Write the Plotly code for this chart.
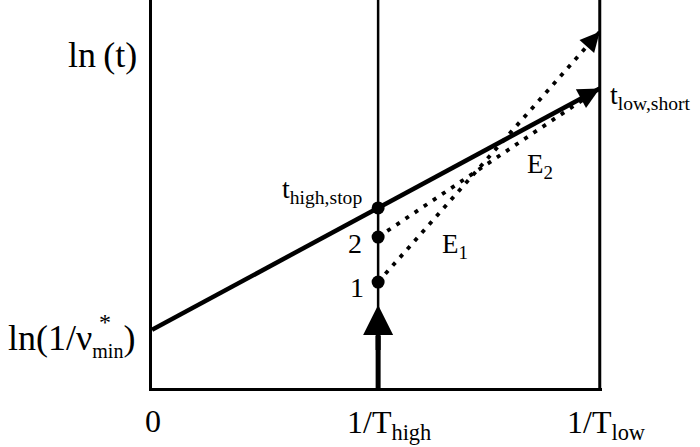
import plotly.graph_objects as go

# ---- schematic data (arbitrary units) ----
x_tick_vals = [0.0, 1.01, 2.0]                 # 0, 1/T_high, 1/T_low
x_tick_labels = ["0", "1/T<sub>high</sub>", "1/T<sub>low</sub>"]
y_top = 10.0
ln_inv_nu_min = 1.5        # intercept ln(1/nu*_min)
t_high_stop = 4.64         # on the solid line at 1/T_high
t_low_short = 7.72         # on the solid line at 1/T_low
state_1 = 2.73             # point 1 at 1/T_high
state_2 = 3.89             # point 2 at 1/T_high
e1_end = 9.18              # path from point 1 at 1/T_low (E1)
e2_end = 7.72              # path from point 2 at 1/T_low (E2)
quench_tip = 2.14          # tip of the bold arrow at 1/T_high

x0, x_high, x_low = x_tick_vals

FONT = "Liberation Serif"
L, R, T, B = 152, 98, 0, 59
W, H = 700, 447
XR = [0, 2.01]
YR = [0, y_top]
pw = W - L - R
ph = H - T - B
def px2p(px):
    return (px - L) / pw
def py2p(py):
    return (H - B - py) / ph

fig = go.Figure()
blk = "black"

# vertical guide lines
fig.add_trace(go.Scatter(x=[x_high, x_high], y=[0, y_top], mode="lines",
                         line=dict(color=blk, width=2.5), hoverinfo="skip"))
fig.add_trace(go.Scatter(x=[x_low, x_low], y=[0, y_top], mode="lines",
                         line=dict(color=blk, width=3), hoverinfo="skip"))
# bold shaft of the quench arrow
fig.add_trace(go.Scatter(x=[x_high, x_high], y=[0, quench_tip - 0.8], mode="lines",
                         line=dict(color=blk, width=5), hoverinfo="skip"))
# solid line
fig.add_trace(go.Scatter(x=[x0, x_high, x_low], y=[ln_inv_nu_min, t_high_stop, t_low_short],
                         mode="lines", line=dict(color=blk, width=4.5), hoverinfo="skip"))
# dotted paths
fig.add_trace(go.Scatter(x=[x_high, x_low], y=[state_1, e1_end], mode="lines",
                         line=dict(color=blk, width=3.8, dash="4px,7px"), hoverinfo="skip"))
fig.add_trace(go.Scatter(x=[x_high, x_low], y=[state_2, e2_end], mode="lines",
                         line=dict(color=blk, width=3.8, dash="4px,7px"), hoverinfo="skip"))
# points
fig.add_trace(go.Scatter(x=[x_high] * 3, y=[state_1, state_2, t_high_stop], mode="markers",
                         marker=dict(color=blk, size=13), hoverinfo="skip"))

annotations = []
def arrow(x, y, xs, ys, width, size):
    annotations.append(dict(x=x, y=y, ax=xs, ay=ys, xref="x", yref="y", axref="x", ayref="y",
                            text="", showarrow=True, arrowhead=2, arrowwidth=width,
                            arrowsize=size, arrowcolor=blk, standoff=0))

def back(xa, ya, xb, yb, frac):
    return xb - (xb - xa) * frac, yb - (yb - ya) * frac

bx, by = back(x_high, t_high_stop, x_low, t_low_short, 0.08)
arrow(x_low, t_low_short, bx, by, 4.5, 0.95)
bx, by = back(x_high, state_1, x_low, e1_end, 0.06)
arrow(x_low, e1_end, bx, by, 3, 1.3)
arrow(x_high, quench_tip, x_high, quench_tip - 1.2, 5, 1.2)

def label(text, px, py, size, xanchor="left", yanchor="middle"):
    annotations.append(dict(x=px2p(px), y=py2p(py), xref="paper", yref="paper", text=text,
                            showarrow=False, xanchor=xanchor, yanchor=yanchor,
                            font=dict(family=FONT, size=size, color=blk)))

label("ln\u2009(t)", 139, 55, 36, xanchor="right")
label("ln(1/ν<sub><span style='font-size:20px'>min</span></sub>)", 137, 340, 36, xanchor="right")
label("*", 97, 322, 24, xanchor="left")
label(x_tick_labels[0], 153, 421, 32, xanchor="center")
label(x_tick_labels[1], 345, 424, 32)
label(x_tick_labels[2], 565, 424, 32)
label("t<sub>high,stop</sub>", 280, 190, 28)
label("2", 355, 243, 28, xanchor="center")
label("1", 357, 287, 28, xanchor="center")
label("E<sub>1</sub>", 440, 246, 27)
label("E<sub>2</sub>", 525, 166, 27)
label("t<sub>low,short</sub>", 608, 96, 28)

fig.update_layout(
    width=W, height=H, margin=dict(l=L, r=R, t=T, b=B),
    paper_bgcolor="white", plot_bgcolor="white", showlegend=False,
    xaxis=dict(range=XR, showgrid=False, zeroline=False, showticklabels=False,
               showline=True, linecolor=blk, linewidth=3, ticks=""),
    yaxis=dict(range=YR, showgrid=False, zeroline=False, showticklabels=False,
               showline=True, linecolor=blk, linewidth=3, ticks=""),
    annotations=annotations,
)
fig.write_html("out.html", config={"displayModeBar": False},
               post_script="document.body.style.margin='0px';")
